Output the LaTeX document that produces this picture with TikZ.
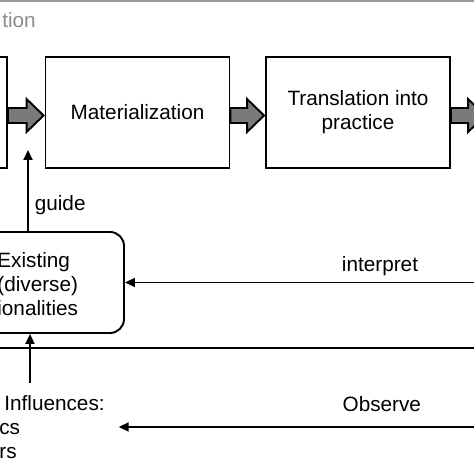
\documentclass[tikz,border=0pt]{standalone}
\usepackage{fontspec}
\setmainfont{Liberation Sans}
\usepackage{tikz}
\usetikzlibrary{calc,arrows.meta}

\begin{document}
\begin{tikzpicture}[
        every node/.style={font=\fontsize{11.8pt}{13.7pt}\selectfont},
        box/.style={draw, line width=1.1pt, minimum width=3.68cm, minimum height=2.22cm, align=center},
        fatarrow/.style={draw, line width=1.1pt, fill=black!52, line join=miter},
        flow/.style={line width=1.1pt, -{Triangle[length=0.2cm,width=0.18cm]}}
    ]
        \useasboundingbox (0,0) rectangle (9.48,9.48);
        \clip (0,0) rectangle (9.48,9.48);

        % Frame
        \draw[black!40, line width=2pt] (-1,-1) rectangle (10.5,9.47);
        \node[anchor=base west, inner sep=0, text=black!45] (title) at (0.04,8.92) {tion};

        % Process boxes
        \node[box] (prev) at (-1.70,7.23) {};
        \node[box] (mat) at (2.75,7.23) {Materialization};
        \node[box] (trans) at (7.16,7.23) {Translation into\\practice};
        \node[box] (next) at (11.58,7.23) {};

        % Fat arrows between boxes
        \draw[fatarrow] ($(prev.east)+(0,0.09)$) -- ($(mat.west)+(-0.36,0.09)$) -- ($(mat.west)+(-0.36,0.27)$) -- ($(mat.west)+(-0.02,-0.06)$) -- ($(mat.west)+(-0.36,-0.39)$) -- ($(mat.west)+(-0.36,-0.21)$) -- ($(prev.east)+(0,-0.21)$) -- cycle;
        \draw[fatarrow] ($(mat.east)+(0,0.09)$) -- ($(trans.west)+(-0.36,0.09)$) -- ($(trans.west)+(-0.36,0.27)$) -- ($(trans.west)+(-0.02,-0.06)$) -- ($(trans.west)+(-0.36,-0.39)$) -- ($(trans.west)+(-0.36,-0.21)$) -- ($(mat.east)+(0,-0.21)$) -- cycle;
        \draw[fatarrow] ($(trans.east)+(0,0.09)$) -- ($(next.west)+(-0.36,0.09)$) -- ($(next.west)+(-0.36,0.27)$) -- ($(next.west)+(-0.02,-0.06)$) -- ($(next.west)+(-0.36,-0.39)$) -- ($(next.west)+(-0.36,-0.21)$) -- ($(trans.east)+(0,-0.21)$) -- cycle;

        % Rationalities
        \node[draw, line width=1.1pt, rounded corners=0.28cm, minimum width=3.44cm, minimum height=2.02cm] (rat) at (0.76,3.83) {};
        \node[anchor=west, align=left, inner sep=0] (rattext) at (-0.06,3.80) {Existing\\(diverse)\\ionalities};

        % Influences
        \node[anchor=west, align=left, text width=2.38cm, inner sep=0] (infl) at (-0.02,0.94) {\hspace*{0.1cm}Influences:\\cs\\rs};

        % Connectors
        \coordinate (guidetip) at (0.56,6.48);
        \coordinate (inflin) at (0.6,1.82);
        \coordinate (interpsrc) at (10,3.83);
        \coordinate (obssrc) at (10,0.94);
        \coordinate (feedR) at (10,2.52);
        \coordinate (feedL) at (-1,2.52);

        \draw[flow] (rat.north -| guidetip) -- (guidetip) node[pos=0.32, right] {guide};
        \draw[flow] (inflin) -- (rat.south -| inflin);
        \draw[flow] (interpsrc) -- (rat.east) node[pos=0.32, above] {interpret};
        \draw[line width=1.1pt] (feedR) -- (feedL);
        \draw[flow] (obssrc) -- (infl.east) node[pos=0.31, above=0.16cm] {Observe};
    \end{tikzpicture}
\end{document}
